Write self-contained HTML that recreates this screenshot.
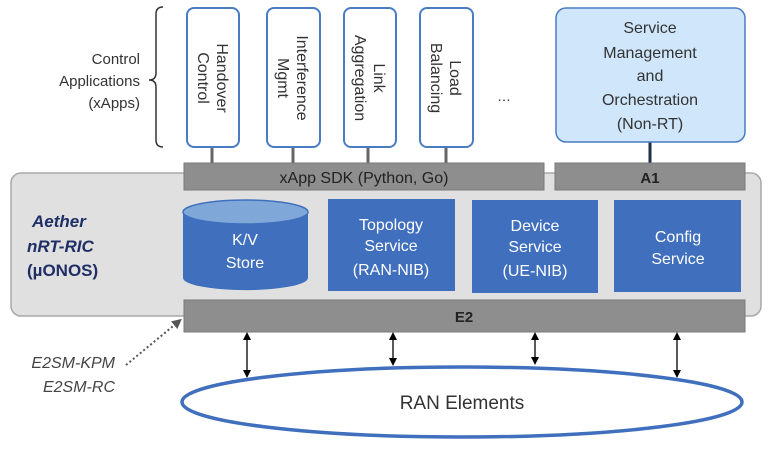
<!DOCTYPE html>
<html><head><meta charset="utf-8"><style>
body{margin:0;background:#fff}
svg text{font-family:"Liberation Sans",sans-serif}
</style></head><body>
<svg width="768" height="447" viewBox="0 0 768 447" xmlns="http://www.w3.org/2000/svg">
<defs>
<marker id="ah" markerWidth="8" markerHeight="8" refX="4" refY="4" orient="auto-start-reverse" markerUnits="userSpaceOnUse"><path d="M0,0 L8,4 L0,8 z" fill="#000"/></marker>
<marker id="ag" markerWidth="10" markerHeight="10" refX="5" refY="5" orient="auto" markerUnits="userSpaceOnUse"><path d="M0,0 L10,5 L0,10 z" fill="#555"/></marker>
</defs>
<rect x="11" y="173" width="750" height="143" rx="10" fill="#e0e0e0" stroke="#a8a8a8" stroke-width="1.5"/>
<path d="M163,7 Q156,7 156,14 V73 Q156,80 149,80 Q156,80 156,87 V140 Q156,147 163,147" fill="none" stroke="#333" stroke-width="1.5"/>
<text x="140" y="64" font-size="15" fill="#333" text-anchor="end">Control</text>
<text x="140" y="86" font-size="15" fill="#333" text-anchor="end">Applications</text>
<text x="140" y="108" font-size="15" fill="#333" text-anchor="end">(xApps)</text>
<g stroke="#666" stroke-width="3"><line x1="212" y1="147" x2="212" y2="164"/><line x1="293" y1="147" x2="293" y2="164"/><line x1="368" y1="147" x2="368" y2="164"/><line x1="446" y1="147" x2="446" y2="164"/></g>
<line x1="650" y1="142" x2="650" y2="164" stroke="#1c2e4a" stroke-width="3"/>
<g fill="#fff" stroke="#4a7cc4" stroke-width="2">
<rect x="187" y="8" width="52" height="139" rx="7"/>
<rect x="267" y="8" width="53" height="139" rx="7"/>
<rect x="344" y="8" width="52" height="139" rx="7"/>
<rect x="420" y="8" width="53" height="139" rx="7"/>
</g>
<g font-size="16" fill="#333" text-anchor="middle">
<text transform="translate(213,78) rotate(90)"><tspan x="0" y="-4">Handover</tspan><tspan x="0" y="15">Control</tspan></text>
<text transform="translate(293,78) rotate(90)"><tspan x="0" y="-4">Interference</tspan><tspan x="0" y="15">Mgmt</tspan></text>
<text transform="translate(370,78) rotate(90)"><tspan x="0" y="-4">Link</tspan><tspan x="0" y="15">Aggregation</tspan></text>
<text transform="translate(446,78) rotate(90)"><tspan x="0" y="-4">Load</tspan><tspan x="0" y="15">Balancing</tspan></text>
</g>
<text x="504" y="101" font-size="14" fill="#333" text-anchor="middle">…</text>
<rect x="556" y="8" width="189" height="134" rx="10" fill="#cfe6fb" stroke="#4a7cc4" stroke-width="1.5"/>
<g font-size="16" fill="#333" text-anchor="middle">
<text x="650" y="33">Service</text><text x="650" y="58">Management</text><text x="650" y="81">and</text><text x="650" y="105">Orchestration</text><text x="650" y="129">(Non-RT)</text>
</g>
<rect x="184" y="163" width="360" height="27" fill="#8e8e8e" stroke="#7a7a7a"/>
<text x="364" y="183" font-size="16" fill="#222" text-anchor="middle">xApp SDK (Python, Go)</text>
<rect x="555" y="163" width="190" height="27" fill="#8e8e8e" stroke="#7a7a7a"/>
<text x="650" y="183" font-size="15" font-weight="bold" fill="#222" text-anchor="middle">A1</text>
<g font-size="17" font-weight="bold" fill="#1f2f66">
<text x="32" y="227" font-style="italic">Aether</text>
<text x="27" y="252" font-style="italic">nRT-RIC</text>
<text x="27" y="276">(µONOS)</text>
</g>
<path d="M183,212 V278 A62,12 0 0 0 308,278 V212" fill="#3f6fbd"/>
<ellipse cx="245.5" cy="212" rx="62.5" ry="12" fill="#7fa8d9" stroke="#3f6fbd" stroke-width="1.5"/>
<g font-size="16" fill="#fff" text-anchor="middle">
<text x="245" y="245">K/V</text><text x="245" y="268">Store</text>
</g>
<g fill="#3f6fbd">
<rect x="328" y="199" width="127" height="92"/>
<rect x="472" y="200" width="126" height="93"/>
<rect x="614" y="200" width="127" height="92"/>
</g>
<g font-size="16" fill="#fff" text-anchor="middle">
<text x="391" y="230">Topology</text><text x="391" y="251">Service</text><text x="391" y="275">(RAN-NIB)</text>
<text x="535" y="231">Device</text><text x="535" y="252">Service</text><text x="535" y="276">(UE-NIB)</text>
<text x="678" y="242">Config</text><text x="678" y="264">Service</text>
</g>
<rect x="184" y="300" width="561" height="32" fill="#8e8e8e" stroke="#7a7a7a"/>
<text x="464" y="322" font-size="15" font-weight="bold" fill="#222" text-anchor="middle">E2</text>
<g stroke="#000" stroke-width="1.3">
<line x1="247" y1="336" x2="247" y2="374" marker-start="url(#ah)" marker-end="url(#ah)"/>
<line x1="393" y1="336" x2="393" y2="362" marker-start="url(#ah)" marker-end="url(#ah)"/>
<line x1="535" y1="336" x2="535" y2="361" marker-start="url(#ah)" marker-end="url(#ah)"/>
<line x1="677" y1="336" x2="677" y2="374" marker-start="url(#ah)" marker-end="url(#ah)"/>
</g>
<ellipse cx="462" cy="402" rx="280" ry="35" fill="#fff" stroke="#3f6fbd" stroke-width="3.5"/>
<text x="462" y="409" font-size="19" fill="#333" text-anchor="middle">RAN Elements</text>
<line x1="126" y1="365" x2="178" y2="322" stroke="#555" stroke-width="2" stroke-dasharray="2,2.5" marker-end="url(#ag)"/>
<g font-size="16" font-style="italic" fill="#444" text-anchor="end">
<text x="115" y="368">E2SM-KPM</text><text x="115" y="392">E2SM-RC</text>
</g>
</svg>
</body></html>
